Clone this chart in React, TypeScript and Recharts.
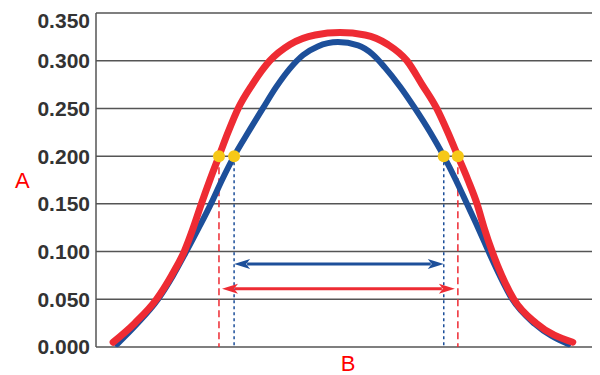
import React from 'react';
import { ComposedChart, Line, Scatter, XAxis, YAxis, CartesianGrid, ReferenceLine } from 'recharts';

// Red curve (wider distribution)
const redX = [3.4, 7.7, 12.0, 15.0, 17.5, 19.3, 20.9, 22.6, 24.4, 26.2, 28.2, 31.0, 34.5, 38.5, 43.5, 48.4, 53.4, 57.9, 61.7, 64.7, 67.6, 69.8, 71.8, 73.8, 75.6, 77.0, 78.6, 80.5, 82.9, 87.3, 94.6];
const redY = [0.005, 0.025, 0.05, 0.075, 0.10, 0.125, 0.15, 0.175, 0.20, 0.225, 0.25, 0.275, 0.30, 0.317, 0.327, 0.3295, 0.327, 0.317, 0.30, 0.275, 0.25, 0.225, 0.20, 0.175, 0.15, 0.125, 0.10, 0.075, 0.05, 0.025, 0.005];

// Blue curve (narrower distribution)
const blueX = [4.2, 8.1, 12.3, 15.3, 17.9, 20.4, 22.8, 25.0, 27.4, 30.2, 33.1, 35.7, 38.5, 41.1, 44.0, 48.0, 52.0, 54.8, 57.3, 60.3, 63.3, 66.3, 69.0, 71.4, 73.6, 75.8, 77.9, 80.1, 82.6, 87.1, 93.7];
const blueY = [0.003, 0.024, 0.05, 0.075, 0.10, 0.125, 0.15, 0.175, 0.20, 0.225, 0.25, 0.272, 0.292, 0.306, 0.315, 0.3195, 0.316, 0.307, 0.293, 0.273, 0.25, 0.225, 0.20, 0.175, 0.15, 0.125, 0.10, 0.075, 0.05, 0.024, 0.003];

// Crossing points at the 0.200 level
const level = 0.2;
const redCross = [24.4, 71.8];
const blueCross = [27.4, 69.0];

// Width arrows
const blueArrow = { from: 27.4, to: 69.0, y: 0.087 };
const redArrow = { from: 25.0, to: 71.2, y: 0.061 };

const yTicks = [0, 0.05, 0.1, 0.15, 0.2, 0.25, 0.3, 0.35];

const RED = '#ee2b33';
const BLUE = '#1d4f9a';
const GOLD = '#f6c817';

const redData = redX.map((x, i) => ({ x, y: redY[i] }));
const blueData = blueX.map((x, i) => ({ x, y: blueY[i] }));
const dotData = [...redCross, ...blueCross].map((x) => ({ x, y: level }));

const makeArrow = (color: string, width: number) => (props: any) => {
  const { x1, y1, x2 } = props;
  const left = Math.min(x1, x2);
  const right = Math.max(x1, x2);
  const y = y1;
  const hl = 16;
  const hw = 5;
  return (
    <g>
      <line x1={left + hl - 3} y1={y} x2={right - hl + 3} y2={y} stroke={color} strokeWidth={width} />
      <polygon
        points={`${left},${y} ${left + hl},${y - hw} ${left + hl - 4},${y} ${left + hl},${y + hw}`}
        fill={color}
      />
      <polygon
        points={`${right},${y} ${right - hl},${y - hw} ${right - hl + 4},${y} ${right - hl},${y + hw}`}
        fill={color}
      />
    </g>
  );
};

export default function App() {
  return (
    <ComposedChart width={592} height={367} margin={{ top: 5, right: 0, bottom: 0, left: 0 }}>
      <CartesianGrid vertical={false} stroke="#555" strokeWidth={1.5} />
      <XAxis
        type="number"
        dataKey="x"
        domain={[0, 100]}
        tick={false}
        tickLine={false}
        axisLine={false}
        height={28}
        label={{ value: 'B', position: 'insideBottom', offset: 4, fill: '#ff0000', fontSize: 22, fontFamily: 'Liberation Sans, Arial, sans-serif' }}
      />
      <YAxis
        type="number"
        dataKey="y"
        domain={[0, 0.35]}
        ticks={yTicks}
        width={88}
        tickFormatter={(v: number) => v.toFixed(3)}
        tickLine={false}
        tickSize={6}
        tickMargin={0}
        axisLine={{ stroke: '#555', strokeWidth: 1.5 }}
        tick={{ fill: '#333', fontSize: 21, fontWeight: 'bold', fontFamily: 'Liberation Sans, Arial, sans-serif' }}
        label={{ value: 'A', position: 'insideLeft', offset: 7, angle: 0, fill: '#ff0000', fontSize: 22, fontFamily: 'Liberation Sans, Arial, sans-serif' }}
      />
      {redCross.map((x, i) => (
        <ReferenceLine
          key={'rd' + i}
          segment={[{ x, y: level }, { x, y: 0 }]}
          stroke={RED}
          strokeWidth={1.5}
          strokeDasharray="7 4"
        />
      ))}
      {blueCross.map((x, i) => (
        <ReferenceLine
          key={'bd' + i}
          segment={[{ x, y: level }, { x, y: 0 }]}
          stroke={BLUE}
          strokeWidth={1.5}
          strokeDasharray="3 3"
        />
      ))}
      <ReferenceLine
        segment={[{ x: blueArrow.from, y: blueArrow.y }, { x: blueArrow.to, y: blueArrow.y }]}
        stroke={BLUE}
        shape={makeArrow(BLUE, 3)}
      />
      <ReferenceLine
        segment={[{ x: redArrow.from, y: redArrow.y }, { x: redArrow.to, y: redArrow.y }]}
        stroke={RED}
        shape={makeArrow(RED, 3)}
      />
      <Line
        data={blueData}
        dataKey="y"
        type="monotone"
        stroke={BLUE}
        strokeWidth={6}
        strokeLinecap="round"
        dot={false}
        activeDot={false}
        isAnimationActive={false}
      />
      <Line
        data={redData}
        dataKey="y"
        type="monotone"
        stroke={RED}
        strokeWidth={7}
        strokeLinecap="round"
        dot={false}
        activeDot={false}
        isAnimationActive={false}
      />
      <Scatter
        data={dotData}
        dataKey="y"
        fill={GOLD}
        isAnimationActive={false}
        shape={(p: any) => <circle cx={p.cx} cy={p.cy} r={6} fill={GOLD} />}
      />
    </ComposedChart>
  );
}
